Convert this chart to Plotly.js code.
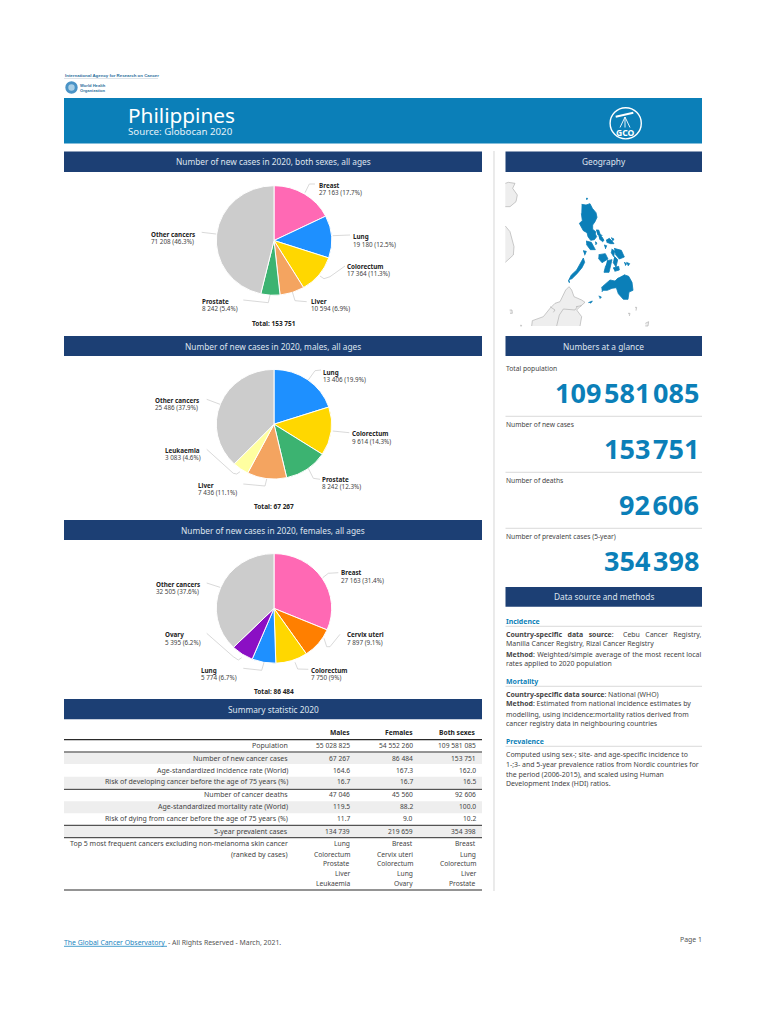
<!DOCTYPE html>
<html><head><meta charset="utf-8">
<script src="https://cdn.plot.ly/plotly-3.0.1.min.js"></script>
<style>html,body{margin:0;padding:0;background:#fff}#c{width:768px;height:1024px}</style>
</head><body><div id="c"></div>
<script>
// ---------- chart data ----------
const bothNames = ["Breast","Lung","Colorectum","Liver","Prostate","Other cancers"];
const bothValues = [27163,19180,17364,10594,8242,71208];
const bothPct = [17.7,12.5,11.3,6.9,5.4,46.3];
const bothColors = ["#ff69b4","#1e90ff","#ffd700","#f4a460","#3cb371","#cccccc"];
const bothTotal = "153 751";

const maleNames = ["Lung","Colorectum","Prostate","Liver","Leukaemia","Other cancers"];
const maleValues = [13406,9614,8242,7436,3083,25486];
const malePct = [19.9,14.3,12.3,11.1,4.6,37.9];
const maleColors = ["#1e90ff","#ffd700","#3cb371","#f4a460","#ffffa0","#cccccc"];
const maleTotal = "67 267";

const femaleNames = ["Breast","Cervix uteri","Colorectum","Lung","Ovary","Other cancers"];
const femaleValues = [27163,7897,7750,5774,5395,32505];
const femalePct = [31.4,9.1,9,6.7,6.2,37.6];
const femaleColors = ["#ff69b4","#ff7f00","#ffd700","#1e90ff","#8b0fc4","#cccccc"];
const femaleTotal = "86 484";

const glanceLabels = ["Total population","Number of new cases","Number of deaths","Number of prevalent cases (5-year)"];
const glanceValues = ["109\u200A581\u200A085","153\u200A751","92\u200A606","354\u200A398"];

const tableHeads = ["Males","Females","Both sexes"];
const tableRows = ["Population","Number of new cancer cases","Age-standardized incidence rate (World)","Risk of developing cancer before the age of 75 years (%)","Number of cancer deaths","Age-standardized mortality rate (World)","Risk of dying from cancer before the age of 75 years (%)","5-year prevalent cases","Top 5 most frequent cancers excluding non-melanoma skin cancer"];
const tableMales = ["55 028 825","67 267","164.6","16.7","47 046","119.5","11.7","134 739"];
const tableFemales = ["54 552 260","86 484","167.3","16.7","45 560","88.2","9.0","219 659"];
const tableBoth = ["109 581 085","153 751","162.0","16.5","92 606","100.0","10.2","354 398"];
const topMales = ["Lung","Colorectum","Prostate","Liver","Leukaemia"];
const topFemales = ["Breast","Cervix uteri","Colorectum","Lung","Ovary"];
const topBoth = ["Breast","Lung","Colorectum","Liver","Prostate"];

// map outlines, in map-panel units
const philX = [245,258,270,277,288,291,285,278,278,287,286,290,283,272,264,261,250,238,247,244,null, 288,296,300,306,302,292,null, 296,306,312,308,298,null, 318,328,336,342,332,320,null, 258,274,286,271,259,null, 342,364,373,358,346,null, 343,353,348,339,null, 296,316,324,306,295,null, 321,336,327,312,317,null, 335,344,341,333,null, 339,356,358,344,null, 372,386,396,399,387,384,370,355,349,336,322,309,307,316,330,345,355,null, 206,214,230,240,250,254,246,231,214,null, 204,208,208,null, 258,263,260,null, 304,310,306,null, 296,304,300,null, 265,277,272,null, 379,389,384,null, 249,259,254,null, 333,342,338,null, 312,320,316,null, 285,291,287,null, 372,380,376];
const philY = [88,90,86,100,113,127,140,150,163,170,177,185,194,196,185,173,167,145,137,115,null, 165,165,176,182,186,178,null, 184,186,196,200,192,null, 196,190,198,206,206,202,null, 198,202,224,224,208,null, 220,226,246,252,238,null, 244,254,276,262,null, 239,236,252,263,250,null, 257,254,292,292,272,null, 222,228,245,232,null, 279,274,285,289,null, 299,304,322,346,351,373,373,356,338,340,346,346,335,327,315,318,308,null, 316,300,285,267,249,262,278,296,313,null, 317,317,324,null, 70,70,75,null, 337,340,351,null, 363,366,371,null, 383,378,385,null, 262,266,273,null, 227,229,241,null, 188,192,198,null, 210,212,222,null, 200,204,210,null, 262,266,272];
const landX = [95,97,130,150,165,180,197,207,215,222,245,255,240,230,245,240,null, 16,25,45,38,52,48,30,16,null, 16,30,42,40,16,null, 29,36,37,30,null, 384,390,388,null, 405,410,408,null, 436,446,444,436,null, 60,65,63];
const landY = [453,437,425,400,385,380,345,335,345,365,375,382,395,405,425,453,null, 25,22,25,40,60,80,95,95,null, 153,170,215,240,262,null, 405,405,415,415,null, 415,415,423,null, 397,397,407,null, 445,440,453,453,null, 451,451,455];
const borderX = [170,178,190,225,232,null,150,165,160,null,228,245];
const borderY = [453,420,402,405,395,null,395,405,412,null,395,392];

// ---------- helpers (page pixels to paper) ----------
const W = 768, H = 1024;
const px = v => v / W, py = v => 1 - v / H;
const FONT = "'Noto Sans', 'Open Sans', sans-serif";
const annotations = [], shapes = [];
function T(x, y, text, size, color, anchor, bold, family) {
  annotations.push({xref:"paper", yref:"paper", x:px(x), y:py(y), text: bold ? "<b>"+text+"</b>" : text,
    showarrow:false, xanchor:anchor||"left", yanchor:"middle", borderpad:0, borderwidth:0,
    align:anchor||"left", font:{family:family||FONT, size:size, color:color||"#444"}});
}
function rect(x0,y0,x1,y1,fill,layer){shapes.push({type:"rect",xref:"paper",yref:"paper",x0:px(x0),x1:px(x1),y0:py(y1),y1:py(y0),fillcolor:fill,line:{width:0},layer:layer||"below"});}
function rule(x0,y,x1,color,w){shapes.push({type:"line",xref:"paper",yref:"paper",x0:px(x0),x1:px(x1),y0:py(y),y1:py(y),line:{color:color,width:w},layer:"below"});}
function seg(x0,y0,x1,y1,color,w){shapes.push({type:"line",xref:"paper",yref:"paper",x0:px(x0),x1:px(x1),y0:py(y0),y1:py(y1),line:{color:color,width:w},layer:"above"});}
function circle(cx,cy,r,fill,lineColor,lw){shapes.push({type:"circle",xref:"paper",yref:"paper",x0:px(cx-r),x1:px(cx+r),y0:py(cy+r),y1:py(cy-r),fillcolor:fill,line:{color:lineColor||fill,width:lw||0},layer:"above"});}
function leader(pts){shapes.push({type:"path",xref:"paper",yref:"paper",
  path:"M"+pts.map(p=>px(p[0])+","+py(p[1])).join(" L"),line:{color:"#cfcfcf",width:0.8},fillcolor:"rgba(0,0,0,0)",layer:"above"});}
function bar(x0,y0,x1,y1,text){rect(x0,y0,x1,y1,"#1c3f74");T((x0+x1)/2,(y0+y1)/2,text,8.3,"#dfe5ef","center");}
const fmt = n => String(n).replace(/\B(?=(\d{3})+$)/g," ");

// ---------- frame ----------
rect(64,98,702,143.5,"#0b7fb8");
T(128,114.5,"Philippines",20.8,"#ffffff");
T(128,131.8,"Source: Globocan 2020",9.7,"#e6f2f8");
bar(64,151.5,482,172,"Number of new cases in 2020, both sexes, all ages");
bar(64,336,482,356,"Number of new cases in 2020, males, all ages");
bar(64,520,482,540,"Number of new cases in 2020, females, all ages");
bar(64,699,482,719.3,"Summary statistic 2020");
bar(505.5,151.5,702,172,"Geography");
bar(505.5,336,702,356,"Numbers at a glance");
bar(505.5,587,702,606.7,"Data source and methods");
shapes.push({type:"line",xref:"paper",yref:"paper",x0:px(494),x1:px(494),y0:py(151),y1:py(891),line:{color:"#dddddd",width:1.2},layer:"below"});

// logos
T(64.5,75,"International Agency for Research on Cancer",4.4,"#2d6f9c","left",true,"'Liberation Sans'");
rule(64,78.5,158,"#d5dde3",0.8);
circle(71.5,87.5,6.2,"#4a93c6");
circle(71.5,87.5,3.2,"#a9cfe6");
T(80,85,"World Health",4.1,"#2d6f9c","left",true,"'Liberation Sans'");
T(80,90.5,"Organization",4.1,"#2d6f9c","left",true,"'Liberation Sans'");
circle(625.7,123.3,15.6,"rgba(0,0,0,0)","#ffffff",1.4);
seg(615.7,116.7,633.3,112.7,"#ffffff",2);
seg(625,117,620,127.5,"#ffffff",0.9);
seg(625,117,625,127.5,"#ffffff",0.9);
seg(625,117,630,127.5,"#ffffff",0.9);
T(625.7,132.5,"GCO",8.6,"#ffffff","center",true);

// ---------- pies ----------
const cx = 274, R = 57.7, pieCY = [240.5,424.2,608.4], squash = 0.95;
function pie(names,values,colors,cy){
  return {type:"pie",labels:names,values:values,sort:false,direction:"clockwise",rotation:0,
    marker:{colors:colors,line:{color:"#ffffff",width:1}},textinfo:"none",hoverinfo:"skip",
    domain:{x:[px(cx-R),px(cx+R)],y:[py(cy+R),py(cy-R)]}};
}
function labels(names,values,pct,pos){
  names.forEach((n,i)=>{
    T(pos[i][0],pos[i][1],n,6.3,"#222","left",true);
    T(pos[i][0],pos[i][1]+7.5,fmt(values[i])+" ("+pct[i]+"%)",6.3,"#444");
  });
}
labels(bothNames,bothValues,bothPct,[[319.3,185.3],[352.7,236.7],[347.3,266],[310.7,301.3],[201.7,301.3],[151.3,234]]);
T(274,323.3,"Total: "+bothTotal,6.5,"#222","center",true);
[[[305,192.7],[309.3,184],[315,184]],[[332.7,235.7],[350,235]],[[320,276],[324,278.7],[330,276.7],[345,266]],[[292.3,291.7],[295,300.7],[306.7,301.7]],[[270,295],[268.3,302.7],[243.3,300]],[[216,234],[201.7,232.3]]].forEach(leader);

labels(maleNames,maleValues,malePct,[[323.3,372],[352,433.7],[322.3,479.3],[198,485],[165,450],[155.3,400.3]]);
T(274,506.7,"Total: "+maleTotal,6.5,"#222","center",true);
[[[308.3,380],[315,370.7],[321,370]],[[332.7,431],[349.3,432.7]],[[308.3,468.3],[313.3,478.3],[320,479.3]],[[266.7,479],[265,486],[243.3,484]],[[240,471.7],[236.7,474],[233.3,473.3],[206.7,449.3]],[[220,404.3],[206.7,399.3]]].forEach(leader);

labels(femaleNames,femaleValues,femalePct,[[341,572.7],[347,634.7],[310.7,670],[201.3,670],[165,634.7],[156,584]]);
T(274,691.7,"Total: "+femaleTotal,6.5,"#222","center",true);
[[[322.7,577.7],[328.3,573.3],[338.3,572.7]],[[324,638.3],[326.7,646.7],[330,646.7],[340,634.3]],[[295,662.3],[297.7,669],[308.3,669.3]],[[264,662.3],[261.7,670.3],[243.3,668.3]],[[241.7,657.7],[238.3,660],[233.3,656.7],[206.7,633.3]],[[220,587.3],[206.7,583]]].forEach(leader);

// ---------- numbers at a glance ----------
const glanceLabelY = [368.7,424,480,536], glanceBigY = [392.3,448.3,504.3,560.3];
glanceLabels.forEach((t,i)=>T(505.7,glanceLabelY[i],t,6.7,"#444"));
glanceValues.forEach((t,i)=>T(698.8,glanceBigY[i],t,27,"#0b7fb8","right",true));
[416.3,472.3,528.3].forEach(y=>rule(505.5,y,702,"#cfcfcf",0.8));

// ---------- data source ----------
const BL="#0b7fb8", TX="#444", FS=6.95, G="\u200A";
T(505.7,621.7,"Incidence",FS,BL,"left",true); rule(505.5,626.3,702,"#cfcfcf",0.8);
T(505.7,634.3,"<b>Country-specific&nbsp;&nbsp;&nbsp;data&nbsp;&nbsp;&nbsp;source</b>:",FS,TX);
T(702,634.3,"Cebu&nbsp;&nbsp;&nbsp;Cancer&nbsp;&nbsp;&nbsp;Registry,",FS,TX,"right");
T(505.7,643.7,"Manilla Cancer Registry, Rizal Cancer Registry",FS,TX);
T(505.7,654,"<b>Method</b>: "+G+"Weighted/simple "+G+"average of "+G+"the most "+G+"recent local",FS,TX);
T(505.7,663.7,"rates applied to 2020 population",FS,TX);
T(505.7,681.7,"Mortality",FS,BL,"left",true); rule(505.5,686.3,702,"#cfcfcf",0.8);
T(505.7,694,"<b>Country-specific data source</b>: National (WHO)",FS,TX);
T(505.7,703.7,"<b>Method</b>: Estimated from national incidence estimates by",FS,TX);
T(505.7,714,"modelling, using incidence:mortality ratios derived from",FS,TX);
T(505.7,723.7,"cancer registry data in neighbouring countries",FS,TX);
T(505.7,741.7,"Prevalence",FS,BL,"left",true); rule(505.5,746.3,702,"#cfcfcf",0.8);
T(505.7,754,"Computed using sex-; site- and age-specific incidence to",FS,TX);
T(505.7,764.3,"1-;3- and 5-year prevalence ratios from Nordic countries for",FS,TX);
T(505.7,774,"the period (2006-2015), and scaled using Human",FS,TX);
T(505.7,783.7,"Development Index (HDI) ratios.",FS,TX);

// ---------- summary table ----------
const colX = [350.3,413,476], labelX = 288;
tableHeads.forEach((h,i)=>T(colX[i],732,h,6.7,"#222","right",true));
[[752.7,764],[776.7,788.3],[801.3,813.3],[826,837]].forEach(b=>rect(64,b[0],482,b[1],"#eeeeee"));
[[739.7,1.2],[752,1],[789.3,1],[825.3,1],[837.7,1],[890,1.2]].forEach(r=>rule(64,r[0],482,"#2a2a2a",r[1]));
const rowY = [745.7,758,770,781.7,794,806,818.7,831,843.7];
tableRows.forEach((t,i)=>T(labelX,rowY[i],t,7,TX,"right"));
T(labelX,854,"(ranked by cases)",7,TX,"right");
[tableMales,tableFemales,tableBoth].forEach((col,c)=>col.forEach((t,i)=>T(colX[c],rowY[i],t,6.7,TX,"right")));
const topY = [843.7,854,863.7,873.3,883.7];
[topMales,topFemales,topBoth].forEach((col,c)=>col.forEach((t,i)=>T(colX[c],topY[i],t,6.7,TX,"right")));

// ---------- footer ----------
T(64,942.3,"The Global Cancer Observatory",6.9,"#1b86c0");
rule(64,946.3,167,"#1b86c0",0.8);
T(168,942.3,"- All Rights Reserved - March, 2021.",6.9,"#555");
T(702,939.5,"Page 1",6.9,"#555","right");

// ---------- traces ----------
const traces = [
  pie(bothNames,bothValues,bothColors,pieCY[0]),
  pie(maleNames,maleValues,maleColors,pieCY[1]),
  pie(femaleNames,femaleValues,femaleColors,pieCY[2]),
  {type:"scatter",mode:"lines",x:landX,y:landY,fill:"toself",fillcolor:"#eeeeee",line:{color:"#a8a8a8",width:0.6},hoverinfo:"skip",xaxis:"x",yaxis:"y"},
  {type:"scatter",mode:"lines",x:borderX,y:borderY,line:{color:"#a8a8a8",width:0.6},hoverinfo:"skip",xaxis:"x",yaxis:"y"},
  {type:"scatter",mode:"lines",x:philX,y:philY,fill:"toself",fillcolor:"#0b7fb8",line:{color:"#0b7fb8",width:0.8},hoverinfo:"skip",xaxis:"x",yaxis:"y"}
];
const layout = {
  width:W,height:H,margin:{l:0,r:0,t:0,b:0,pad:0},paper_bgcolor:"#ffffff",plot_bgcolor:"rgba(0,0,0,0)",showlegend:false,
  xaxis:{domain:[px(500),px(660)],range:[0,480],visible:false,fixedrange:true},
  yaxis:{domain:[py(335),py(175)],range:[480,0],visible:false,fixedrange:true},
  annotations:annotations,shapes:shapes
};
Plotly.newPlot("c",traces,layout,{displayModeBar:false,staticPlot:true}).then(()=>{
  // the reference's pies are slightly flattened vertically
  document.querySelectorAll(".pielayer .trace").forEach((g,i)=>{
    g.setAttribute("transform","translate(0,"+pieCY[i]+") scale(1,"+squash+") translate(0,"+(-pieCY[i])+")");
  });
});
</script></body></html>
